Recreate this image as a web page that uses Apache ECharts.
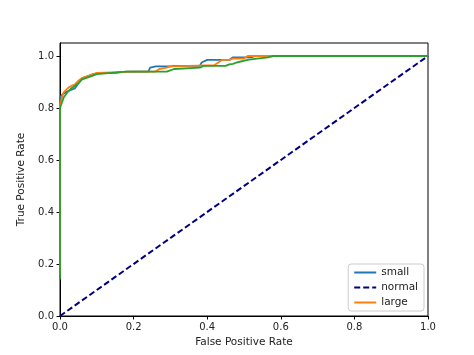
<!DOCTYPE html>
<html>
<head>
<meta charset="utf-8">
<script src="https://cdn.jsdelivr.net/npm/echarts@6/dist/echarts.min.js"></script>
<style>html,body{margin:0;padding:0;background:#fff}#c{width:474px;height:355px}</style>
</head>
<body>
<div id="c"></div>
<script>
const xTicks = [0, 0.2, 0.4, 0.6, 0.8, 1.0];
const yTicks = [0, 0.2, 0.4, 0.6, 0.8, 1.0];
const smallFpr = [0, 0, 0.005, 0.01, 0.015, 0.02, 0.03, 0.04, 0.045, 0.05, 0.055, 0.06, 0.07, 0.09, 0.11, 0.15, 0.18, 0.24, 0.245, 0.26, 0.3, 0.31, 0.38, 0.385, 0.4, 0.46, 0.47, 0.52, 0.53, 1.0];
const smallTpr = [0.16, 0.84, 0.85, 0.855, 0.86, 0.865, 0.87, 0.875, 0.885, 0.895, 0.905, 0.915, 0.92, 0.93, 0.935, 0.935, 0.94, 0.94, 0.955, 0.96, 0.96, 0.962, 0.962, 0.975, 0.985, 0.985, 0.995, 0.995, 1.0, 1.0];
const normalFpr = [0, 1];
const normalTpr = [0, 1];
const largeFpr = [0, 0, 0.005, 0.01, 0.02, 0.03, 0.04, 0.05, 0.06, 0.08, 0.1, 0.2, 0.26, 0.27, 0.29, 0.3, 0.42, 0.43, 0.44, 0.46, 0.47, 0.5, 0.51, 1.0];
const largeTpr = [0.16, 0.81, 0.84, 0.86, 0.875, 0.885, 0.89, 0.905, 0.915, 0.925, 0.935, 0.94, 0.94, 0.95, 0.955, 0.96, 0.965, 0.975, 0.985, 0.985, 0.99, 0.99, 1.0, 1.0];
const otherFpr = [0, 0, 0.005, 0.01, 0.02, 0.03, 0.04, 0.05, 0.06, 0.08, 0.1, 0.18, 0.29, 0.3, 0.31, 0.38, 0.39, 0.45, 0.46, 0.47, 0.48, 0.51, 0.535, 0.565, 0.58, 1.0];
const otherTpr = [0.14, 0.8, 0.82, 0.84, 0.86, 0.875, 0.885, 0.895, 0.91, 0.92, 0.93, 0.94, 0.94, 0.945, 0.95, 0.955, 0.962, 0.962, 0.968, 0.97, 0.975, 0.985, 0.99, 0.995, 1.0, 1.0];

const zip = (a, b) => a.map((v, i) => [v, b[i]]);
const font = 'DejaVu Sans';
const chart = echarts.init(document.getElementById('c'));
const axisCommon = {
  axisLine: {show: true, onZero: false, lineStyle: {color: '#000', width: 1}},
  axisTick: {show: true, length: 3.5, lineStyle: {color: '#000'}},
  splitLine: {show: false},
  axisLabel: {color: '#222', fontSize: 10, fontFamily: font, formatter: v => v.toFixed(1), showMaxLabel: true}
};
chart.setOption({
  animation: false,
  backgroundColor: '#fff',
  grid: {left: 60, right: 46, top: 43, bottom: 39, show: true, borderColor: '#000', borderWidth: 1, backgroundColor: 'transparent'},
  xAxis: Object.assign({}, axisCommon, {
    type: 'value', min: 0, max: 1, interval: 0.2,
    name: 'False Positive Rate', nameLocation: 'middle', nameGap: 21,
    nameTextStyle: {color: '#222', fontSize: 10.5, fontFamily: font},
    axisLabel: Object.assign({}, axisCommon.axisLabel, {margin: 6})
  }),
  yAxis: Object.assign({}, axisCommon, {
    type: 'value', min: 0, max: 1.05, interval: 0.2,
    name: 'True Positive Rate', nameLocation: 'middle', nameGap: 30,
    nameTextStyle: {color: '#222', fontSize: 10.5, fontFamily: font},
    axisLabel: Object.assign({}, axisCommon.axisLabel, {showMaxLabel: false, margin: 6})
  }),
  legend: {
    data: ['small', 'normal', 'large'],
    orient: 'vertical', right: 50, bottom: 44,
    backgroundColor: '#fff', borderColor: '#ccc', borderWidth: 1, borderRadius: 3,
    padding: [3, 6, 3, 5], itemGap: 4, itemWidth: 22, itemHeight: 12,
    itemStyle: {opacity: 0},
    textStyle: {color: '#222', fontSize: 10.5, fontFamily: font}
  },
  series: [
    {name: 'small', type: 'line', data: zip(smallFpr, smallTpr), symbol: 'none', color: '#1f77b4', lineStyle: {width: 1.8}, z: 2},
    {name: 'normal', type: 'line', data: zip(normalFpr, normalTpr), symbol: 'none', color: '#000080', lineStyle: {width: 2, type: [6, 3]}, z: 2},
    {name: 'large', type: 'line', data: zip(largeFpr, largeTpr), symbol: 'none', color: '#ff7f0e', lineStyle: {width: 1.8}, z: 3},
    {name: 'other', type: 'line', data: zip(otherFpr, otherTpr), symbol: 'none', color: '#2ca02c', lineStyle: {width: 1.8}, z: 4}
  ]
});
</script>
</body>
</html>
